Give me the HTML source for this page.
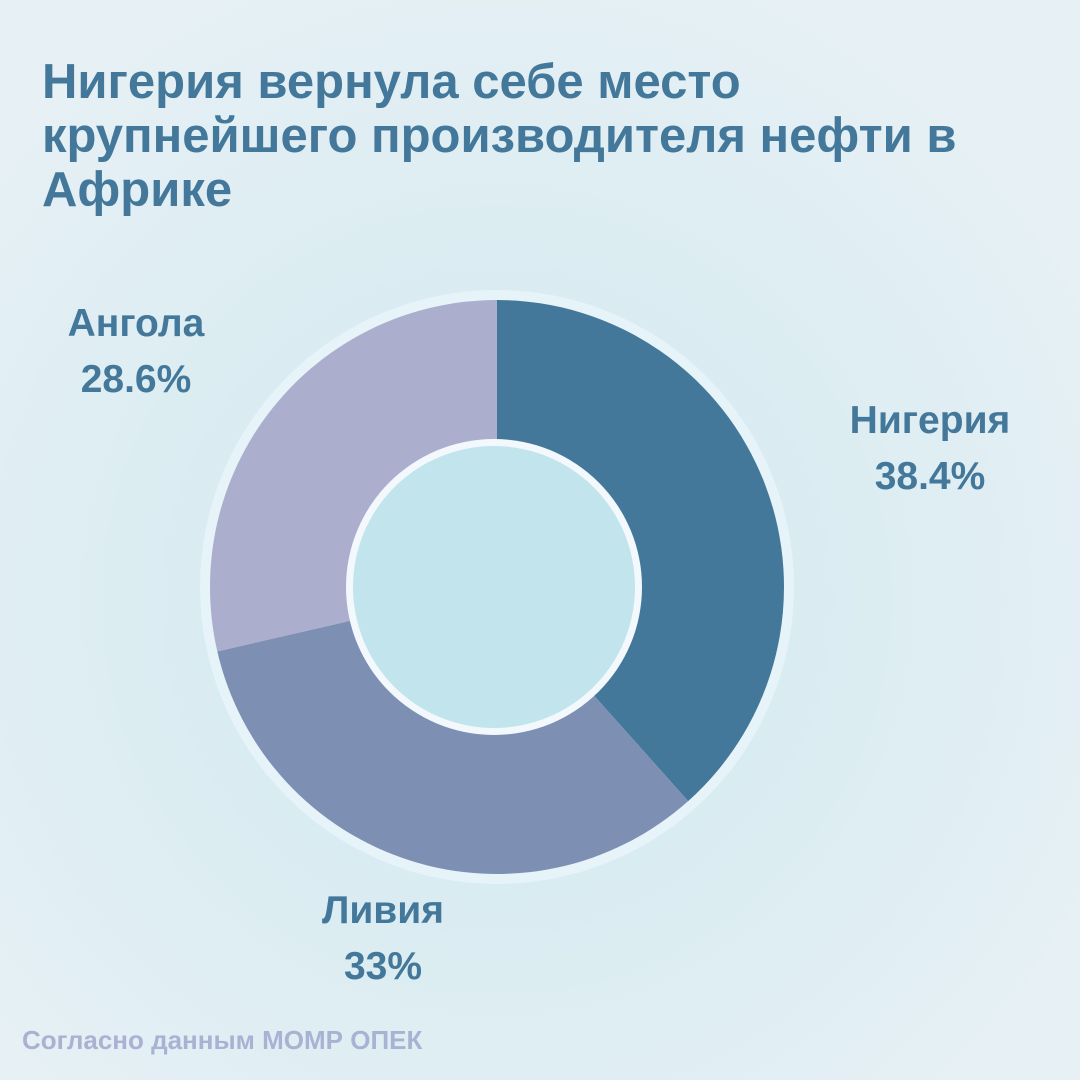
<!DOCTYPE html>
<html><head><meta charset="utf-8">
<style>
html,body{margin:0;padding:0}
body{width:1080px;height:1080px;overflow:hidden;background:radial-gradient(circle at 497px 600px,#cfe8ef 0%,#dcedf2 45%,#e6f0f5 80%);font-family:"Liberation Sans","DejaVu Sans",sans-serif;position:relative}
.t{position:absolute;left:42px;top:55px;color:#44789a;font-weight:bold;font-size:49px;line-height:54px;margin:0}
.lbl{position:absolute;color:#44789a;font-weight:bold;font-size:39px;line-height:56px;text-align:center;width:260px}
.src{position:absolute;left:22px;top:1025px;color:#a9b2d2;font-weight:bold;font-size:26px}
</style></head><body>
<h1 class="t">Нигерия вернула себе место<br>крупнейшего производителя нефти в<br>Африке</h1>
<svg id="c" width="1080" height="1080" style="position:absolute;left:0;top:0"></svg>
<div class="lbl" style="left:800px;top:393px">Нигерия<br>38.4%</div>
<div class="lbl" style="left:253px;top:883px">Ливия<br>33%</div>
<div class="lbl" style="left:6px;top:296px">Ангола<br>28.6%</div>
<div class="src">Согласно данным МОМР ОПЕК</div>
<script>
const categories=["Нигерия","Ливия","Ангола"];
const values=[38.4,33,28.6];
const colors=["#44789a","#7d90b4","#abaecd"];
const svg=document.getElementById('c');
const NS="http://www.w3.org/2000/svg";
const cx=497,cy=587,R=287;
const ring=document.createElementNS(NS,'circle');


ring.setAttribute('cx',cx);ring.setAttribute('cy',cy);ring.setAttribute('r',R+10);ring.setAttribute('fill','#e6f3f8');
svg.appendChild(ring);
const total=values.reduce((a,b)=>a+b,0);
let a0=0;
function pt(a,r){return [cx+r*Math.sin(a),cy-r*Math.cos(a)];}
values.forEach((v,i)=>{
  const a1=a0+v/total*2*Math.PI;
  const p0=pt(a0,R),p1=pt(a1,R);
  const large=(a1-a0)>Math.PI?1:0;
  const p=document.createElementNS(NS,'path');
  
  
  p.setAttribute('d',`M${cx},${cy}L${p0[0]},${p0[1]}A${R},${R} 0 ${large} 1 ${p1[0]},${p1[1]}Z`);
  p.setAttribute('fill',colors[i]);
  svg.appendChild(p);
  a0=a1;
});
const hw=document.createElementNS(NS,'circle');


hw.setAttribute('cx',cx-3);hw.setAttribute('cy',cy);hw.setAttribute('r',148);hw.setAttribute('fill','#f2f8fb');
svg.appendChild(hw);
const h=document.createElementNS(NS,'circle');


h.setAttribute('cx',cx-3);h.setAttribute('cy',cy);h.setAttribute('r',141);h.setAttribute('fill','#c2e5ed');
svg.appendChild(h);
</script>
</body></html>
